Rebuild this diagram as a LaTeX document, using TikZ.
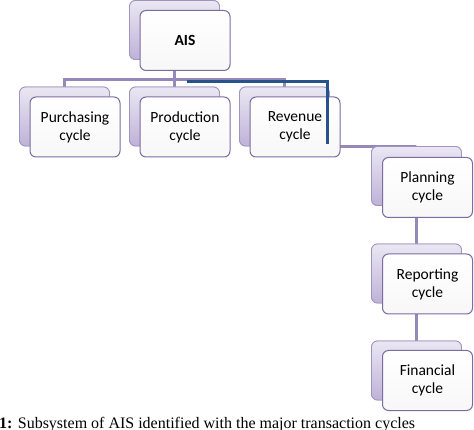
\documentclass[tikz,border=0pt]{standalone}
\usepackage{fontspec}
\setmainfont{Carlito}
\newfontfamily\capfont{Liberation Serif}
\usepackage{tikz}
\usetikzlibrary{positioning}
\definecolor{boxline}{RGB}{125,108,160}
\definecolor{backline}{RGB}{160,148,190}
\definecolor{backtop}{RGB}{234,231,243}
\definecolor{backbot}{RGB}{190,178,216}
\definecolor{linkcol}{RGB}{150,136,184}
\definecolor{bluecol}{RGB}{40,82,140}

\begin{document}
\begin{tikzpicture}[x=1pt,y=-1pt,
back/.style={draw=backline, line width=0.8pt, rounded corners=6pt,
  minimum width=90pt, minimum height=59pt, top color=backtop, bottom color=backbot},
front/.style={draw=boxline, line width=1pt, rounded corners=6pt, fill=white,
  minimum width=90pt, minimum height=60pt, align=center, font=\fontsize{15.5}{18}\selectfont,
  top color=white, bottom color=gray!6},
link/.style={draw=linkcol, line width=3pt},
blueline/.style={draw=bluecol, line width=3pt}]
\useasboundingbox (0,0) rectangle (474,430);
\node[back] (aisB) at (174.5,30) {};
\node[back] (purB) at (64.5,116.5) {};
\node[back] (proB) at (174.5,116.5) {};
\node[back] (revB) at (284.5,116.5) {};
\node[back] (plaB) at (416.5,176) {};
\node[back] (repB) at (416.5,273.5) {};
\node[back] (finB) at (416.5,370.5) {};
\draw[link] (aisB.south) -- ++(0,20) coordinate (bar);
\draw[link] (bar) -| (purB.north);
\draw[link] (bar) -| (revB.north);
\draw[link] (bar) -- (proB.north);
\draw[link] (revB.south) -| (plaB.north);
\draw[link] (plaB.south) -- (repB.north);
\draw[link] (repB.south) -- (finB.north);
\node[back] at (aisB) {};
\node[back] at (purB) {};
\node[back] at (proB) {};
\node[back] at (revB) {};
\node[back] at (plaB) {};
\node[back] at (repB) {};
\node[back] at (finB) {};
\node[front, font=\fontsize{15.5}{18}\selectfont\bfseries] (ais) at (185,40.5) {AIS};
\node[front] (pur) at (75,127) {Purchasing\\cycle};
\node[front] (pro) at (185,127) {Production\\cycle};
\node[front] (rev) at (295,127) {Revenue\\cycle};
\node[front] (pla) at (427.5,187.5) {Planning\\cycle};
\node[front] (rep) at (427.5,284) {Reporting\\cycle};
\node[front] (fin) at (427.5,380.5) {Financial\\cycle};
\draw[blueline] ([shift={(12,2)}]bar) -| ([shift={(-13,-13)}]rev.south east);
\node[anchor=base west, inner sep=0pt, font=\capfont\fontsize{16}{19}\selectfont] (cap) at (-1,428)
  {\textbf{1:} Subsystem of AIS identified with the major transaction cycles};
\end{tikzpicture}
\end{document}
